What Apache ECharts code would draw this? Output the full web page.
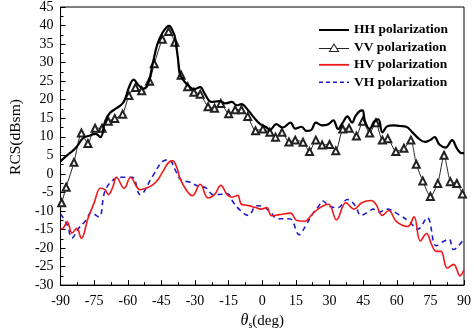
<!DOCTYPE html>
<html><head><meta charset="utf-8">
<script src="https://cdn.jsdelivr.net/npm/echarts@6/dist/echarts.min.js"></script>
<style>html,body{margin:0;padding:0;background:#fff}#c{width:474px;height:335px}</style>
</head><body><div id="c"></div>
<script>
const xTicks = {min: -90, max: 90, interval: 15};
const yTicks = {min: -30, max: 45, interval: 5};
const seriesNames = ['HH polarization', 'VV polarization', 'HV polarization', 'VH polarization'];

const hhX = [-90,-87.5,-85,-82.8,-80,-77.2,-74.3,-72.2,-70.1,-68,-65,-62.3,-60.9,-59.5,-57.4,-55.2,-53.1,-51,-48.9,-46.8,-44.6,-42.5,-41.5,-40,-39,-37.6,-36.9,-35.4,-33.3,-30.5,-27.7,-25.6,-22.7,-19.2,-16.4,-13.6,-11.4,-9.3,-6.5,-3.6,-0.9,2,3.4,6.2,9.1,12.6,14.7,17.5,19.7,21.8,23.9,26.7,29.5,31.7,33.8,35.9,38,40.1,41.5,43.2,44.7,45.8,47.9,50,51.8,53.6,55.7,58.5,61.3,64.2,67,69.8,72.6,74.8,76.9,79,81.8,84.7,86.8,88.9,90];
const hhY = [3.4,4.8,6.0,7.3,9.6,10.3,10.8,9.9,14.2,16.4,17.7,19,20.7,23.3,25.4,23.9,23,24.1,29.7,35,38,39.7,39.9,38.5,37,31,27.2,25.4,24,22.8,23.4,21.5,19.4,19.6,19,19.4,18.5,18.8,17.3,15.1,13.4,12.5,11.8,13.4,12.5,13.8,12.2,12.7,11.6,11.8,13.8,13.1,13.4,14.4,12.1,13.8,15.5,13.8,15.5,16.8,17.1,14.2,12.1,14.2,14.7,11.2,12.8,13.1,12.9,12.7,11.2,9.5,8.6,9.1,9.9,7.9,7.1,9.1,6.9,5.6,5.6];

const vvX = [-89.5,-87.5,-84,-80.7,-77.8,-74.6,-71.5,-68.7,-65.8,-62.3,-59.5,-56.6,-53.8,-50.3,-48.2,-44.6,-41.8,-39,-36.2,-33.3,-30.5,-27.7,-24.2,-21.3,-18.5,-15,-12.1,-9.3,-6.5,-3,0.3,3.4,5.9,8.8,11.9,14.7,18.2,21.1,23.9,26.7,30,32.8,35.9,38.7,42,44.8,47.9,50.7,53.6,56,59.6,63.2,66.3,68.7,71.6,75,78.3,81.1,83.9,86.8,89.3];
const vvY = [-7.8,-3.6,3.1,11,8.2,12.3,12.3,14.2,14.9,16.1,21.1,23.3,22.4,25,29.7,36.3,38.4,35.5,26.6,23.5,22,21.5,18.1,17.7,19,16.2,17.3,17.3,15.5,11.6,12.1,11.2,9.9,11.2,8.6,9.1,8.5,6,9.1,7.8,7.9,6.2,12.1,12.3,10.2,14.2,11,13.8,9.1,9.5,6,6.9,9.1,2.6,-1.9,-6.1,-2.6,5,-2.1,-2.6,-5.4];

const hvX = [-90,-88.8,-87,-84.9,-82.8,-80.7,-77.8,-75,-72.2,-70.1,-68.7,-66.6,-65.1,-61.6,-58.8,-54.5,-51.5,-48.9,-46.5,-44.6,-41.1,-40,-38,-36.9,-34,-31.2,-27.7,-24.2,-21.3,-18.5,-15.7,-13.5,-11,-9.3,-6.5,-3,-0.5,2,4.1,7.6,12.6,15.4,19,21.8,25.3,29.5,33.1,37.3,40.9,44.4,48.6,50.7,53.6,56.4,59.9,64.9,67.7,70.5,73.3,75.5,77.6,79.7,82.5,85.4,88.2,90];
const hvY = [-14.8,-14.6,-12.9,-16,-14.7,-17.4,-12.1,-7.8,-3.9,-4.3,-5.6,-3.4,-0.9,-3.9,-1,-4.3,-3.8,-3,-1.5,0.4,3.4,3.5,1.5,-0.9,-4.3,-5.9,-2.8,-6.5,-5.6,-3.1,-5.6,-6.3,-5.8,-8.2,-8.5,-9.1,-9.5,-9.1,-11.3,-11,-10.6,-12.6,-12.8,-11.2,-9.3,-8.2,-12.4,-7.8,-9.5,-7.8,-7.2,-8.2,-11.2,-9.9,-12.9,-14.2,-11.6,-18.1,-16.1,-19,-20.9,-20.9,-25.4,-24.4,-27.5,-25.8];

const vhX = [-90,-87,-84.9,-82.1,-78.6,-76.4,-72.9,-70.1,-65.8,-63,-58.1,-54.5,-48.9,-44.6,-41.8,-38.3,-36.2,-32.6,-29.1,-24.8,-22.1,-18,-15.7,-12.8,-10,-6.2,-2.5,0.3,3.4,6.9,11.9,13.3,16.5,19.7,22.5,25.3,27,30.2,33.8,38,41.5,44,47.2,49.4,52.2,55.5,60.9,65.6,69.4,73.6,77.6,80.6,83.3,85.3,90];
const vhY = [-10.8,-13.8,-17.3,-14.8,-12.5,-10.5,-11.6,-4.5,-1.3,-0.9,-0.9,-5.6,-0.6,3.3,3.8,0.4,-1.7,-2.2,-3.2,-3.9,-5.6,-5.5,-5.3,-7.8,-9.7,-11.2,-8.6,-8.8,-10.2,-12.1,-12.1,-12.5,-16.4,-13.6,-10.8,-8.6,-7.3,-8.8,-9.1,-6.9,-8.6,-11.2,-10.3,-9.5,-10.3,-9.5,-11,-12.9,-14.9,-11.8,-19.4,-18.3,-17.6,-20.4,-17.5];

const pairs = (xs, ys) => xs.map((x, i) => [x, ys[i]]);
const FONT = '"Liberation Serif","Times New Roman",serif';

const ICON_SOLID2 = 'path://M0,0H30V2H0Z';
const ICON_SOLID_R = 'path://M0,0H30V1.8H0Z';
const ICON_DASH = 'path://M0,0H4V1.5H0Z M7,0H11V1.5H7Z M14,0H18V1.5H14Z M21,0H25V1.5H21Z M28,0H30V1.5H28Z';
const ICON_VV = 'path://M0,6H12.2V7H0Z M17.8,6H30V7H17.8Z M15,1L20.5,10L9.5,10Z M15,3.1L11.3,9.1L18.7,9.1Z';

const chart = echarts.init(document.getElementById('c'), null, {renderer: 'canvas'});
chart.setOption({
  animation: false,
  backgroundColor: '#fff',
  grid: {left: 43, right: 7, top: 6, bottom: 39, show: true, borderColor: '#000', borderWidth: 1, backgroundColor: 'transparent'},
  legend: {
    orient: 'vertical', left: 314, top: 18, itemWidth: 30, itemHeight: 14, itemGap: 3.4,
    textStyle: {fontFamily: FONT, fontWeight: 'bold', fontSize: 13.5, color: '#000'},
    data: [
      {name: seriesNames[0], icon: ICON_SOLID2},
      {name: seriesNames[1], icon: ICON_VV},
      {name: seriesNames[2], icon: ICON_SOLID_R},
      {name: seriesNames[3], icon: ICON_DASH}
    ]
  },
  xAxis: {
    type: 'value', min: xTicks.min, max: xTicks.max, interval: xTicks.interval,
    axisLine: {show: true, onZero: false, lineStyle: {color: '#000', width: 1}},
    axisTick: {show: true, inside: true, length: 5, lineStyle: {color: '#000'}},
    minorTick: {show: true, splitNumber: 2, length: 3, lineStyle: {color: '#000'}},
    splitLine: {show: false},
    axisLabel: {fontFamily: FONT, fontSize: 14, color: '#000', margin: 9},
    name: '{t|θ}{s|s}{n|(deg)}', nameLocation: 'middle', nameGap: 26,
    nameTextStyle: {rich: {
      t: {fontFamily: FONT, fontStyle: 'italic', fontSize: 16, color: '#000'},
      s: {fontFamily: FONT, fontSize: 10, color: '#000', verticalAlign: 'bottom', padding: [8, 0, 0, 0]},
      n: {fontFamily: FONT, fontSize: 15, color: '#000'}
    }}
  },
  yAxis: {
    type: 'value', min: yTicks.min, max: yTicks.max, interval: yTicks.interval,
    axisLine: {show: true, onZero: false, lineStyle: {color: '#000', width: 1}},
    axisTick: {show: true, inside: true, length: 5, lineStyle: {color: '#000'}},
    minorTick: {show: true, splitNumber: 2, length: 3, lineStyle: {color: '#000'}},
    splitLine: {show: false},
    axisLabel: {fontFamily: FONT, fontSize: 14, color: '#000', margin: 7},
    name: 'RCS(dBsm)', nameLocation: 'middle', nameGap: 31,
    nameTextStyle: {fontFamily: FONT, fontSize: 15.5, color: '#000', padding: [0, 0, 0, 18]}
  },
  series: [
    {name: seriesNames[0], type: 'line', data: pairs(hhX, hhY), smooth: 0.4, showSymbol: false, symbol: 'none',
     lineStyle: {color: '#000', width: 2.2}, itemStyle: {color: '#000'}, z: 4},
    {name: seriesNames[1], type: 'line', data: pairs(vvX, vvY), smooth: 0.2, symbol: 'emptyTriangle', symbolSize: 7,
     lineStyle: {color: '#222', width: 1}, itemStyle: {color: '#222', borderWidth: 1}, z: 3},
    {name: seriesNames[2], type: 'line', data: pairs(hvX, hvY), smooth: 0.4, symbol: 'none',
     lineStyle: {color: '#f01818', width: 1.6}, itemStyle: {color: '#f01818'}, z: 2},
    {name: seriesNames[3], type: 'line', data: pairs(vhX, vhY), smooth: 0.4, symbol: 'none',
     lineStyle: {color: '#1c1cc8', width: 1.6, type: [5, 4]}, itemStyle: {color: '#1c1cc8'}, z: 1}
  ]
});
</script></body></html>
